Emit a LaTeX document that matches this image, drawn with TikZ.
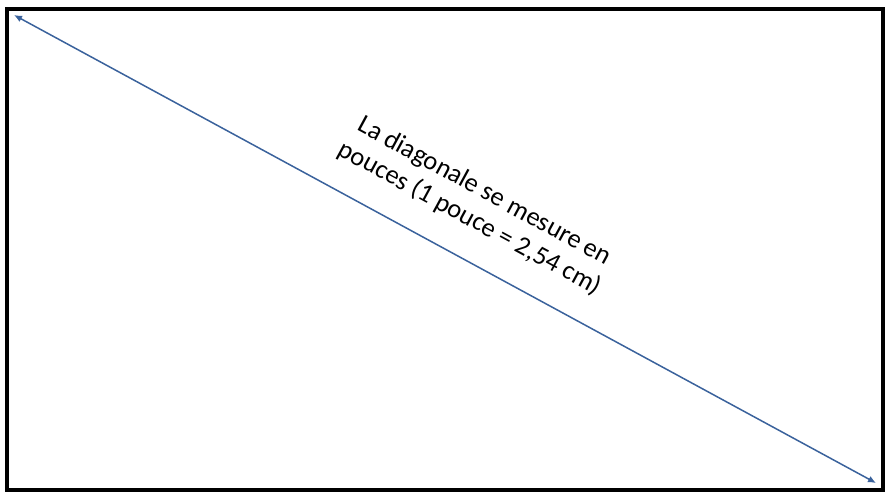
\documentclass[tikz,border=0pt]{standalone}
\usepackage{fontspec}
\setmainfont{Carlito}
\usetikzlibrary{arrows.meta}
\definecolor{linkblue}{RGB}{58,98,156}
\tikzset{
  frame/.style={draw=black,line width=4pt},
  diag/.style={draw=linkblue,line width=1.5pt,{Latex[length=8pt,width=7pt]}-{Latex[length=8pt,width=7pt]}},
  label/.style={font=\fontsize{26.5}{31}\selectfont,align=center,rotate=-28.5,inner sep=0pt}
}
\begin{document}
\begin{tikzpicture}[x=1pt,y=-1pt]
\useasboundingbox (0,0) rectangle (891,501);
\draw[frame] (7,9) rectangle (883,490);
\coordinate (a) at (14,15);
\coordinate (b) at (876,483);
\draw[diag] (a) -- (b);
\node[label] (t) at (477,205) {La diagonale se mesure en\\pouces (1 pouce = 2,54 cm)};
\end{tikzpicture}
\end{document}
